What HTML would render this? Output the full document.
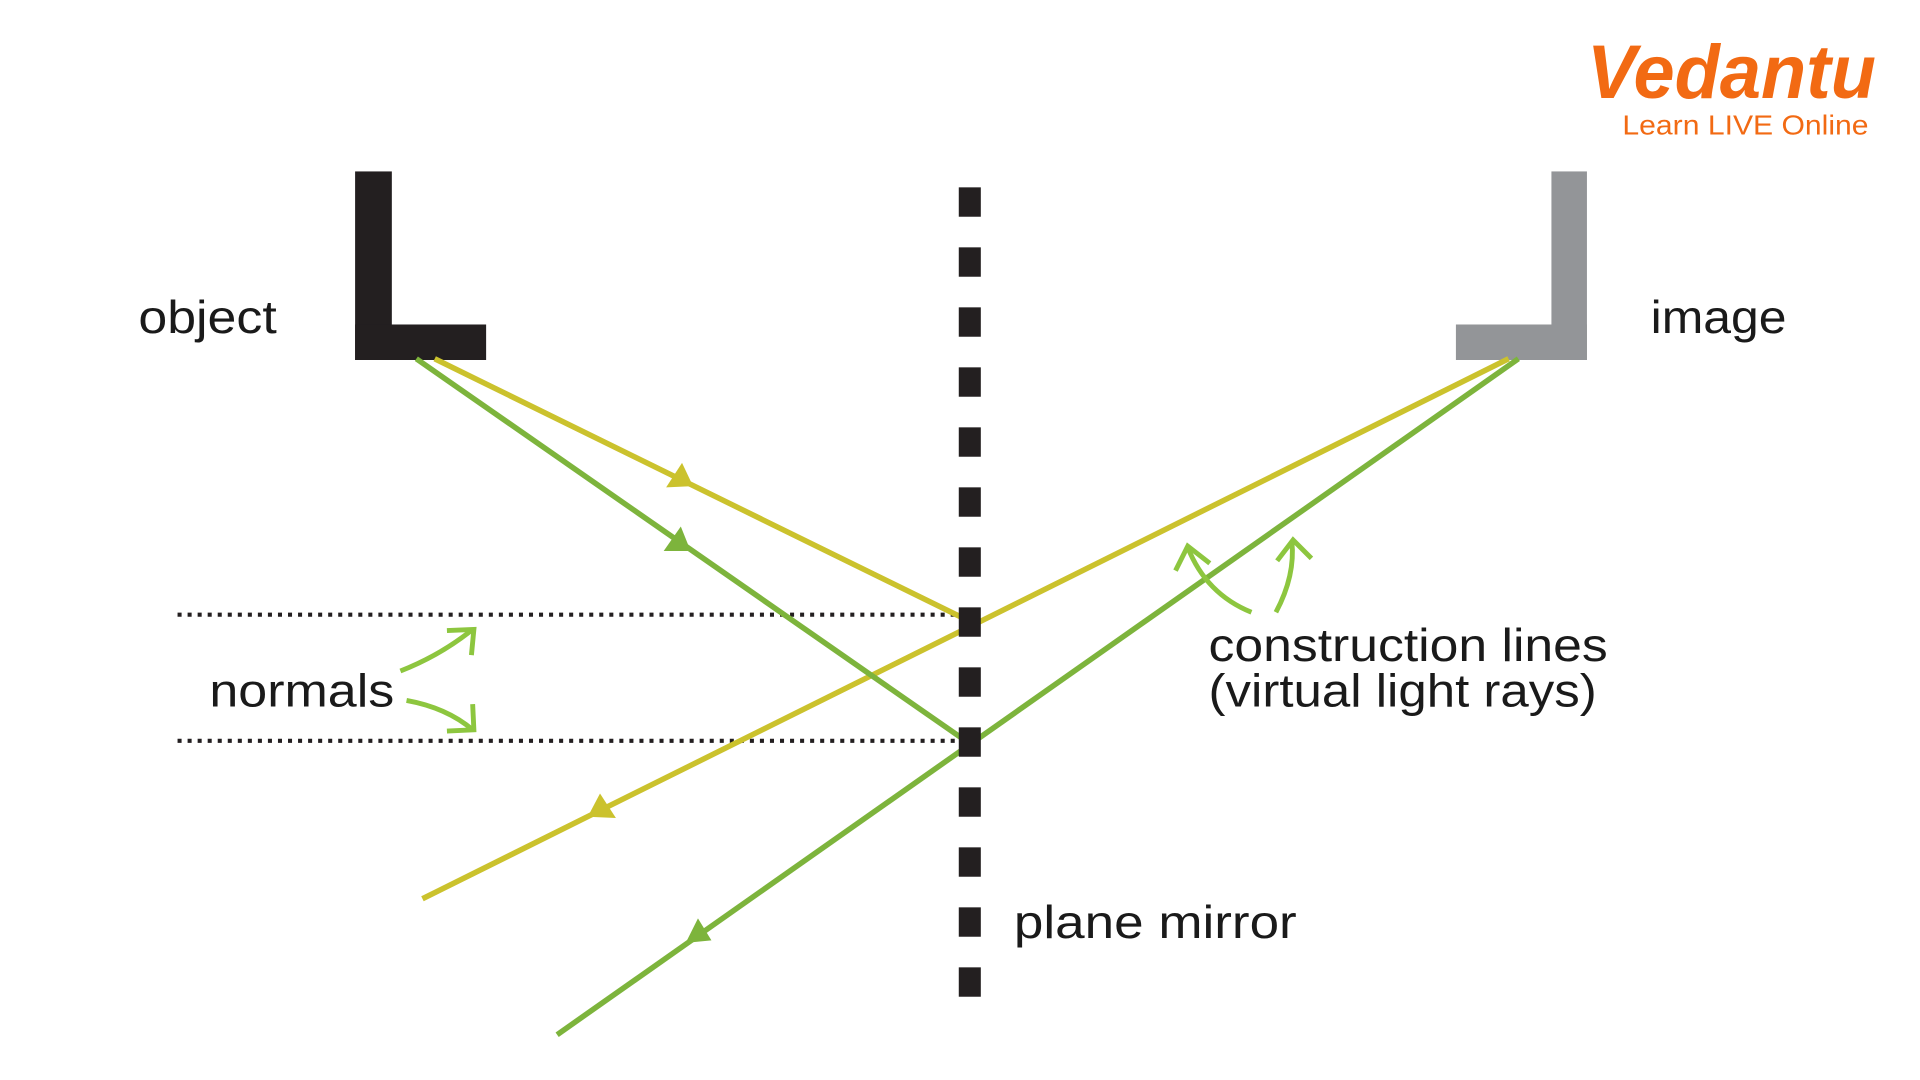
<!DOCTYPE html>
<html><head><meta charset="utf-8"><style>
html,body{margin:0;padding:0;background:#fff;width:1920px;height:1080px;overflow:hidden}
svg{display:block}
text{font-family:"Liberation Sans",sans-serif}
</style></head><body>
<svg width="1920" height="1080" viewBox="0 0 1568 882" xmlns="http://www.w3.org/2000/svg">
<!-- logo -->
<text x="1296" y="80" font-size="62" fill="#f26a13" font-style="italic" font-weight="bold" textLength="236" lengthAdjust="spacingAndGlyphs">Vedantu</text>
<text x="1325" y="110" font-size="23" fill="#f26a13" textLength="201" lengthAdjust="spacingAndGlyphs">Learn LIVE Online</text>
<!-- object L -->
<rect x="290" y="140" width="30" height="154" fill="#231f20"/>
<rect x="290" y="265" width="107" height="29" fill="#231f20"/>
<!-- image L -->
<rect x="1267" y="140" width="29" height="154" fill="#939598"/>
<rect x="1189" y="265" width="107" height="29" fill="#939598"/>
<!-- normals -->
<line x1="145" y1="502" x2="783" y2="502" stroke="#231f20" stroke-width="3.3" stroke-dasharray="3.3 4.9"/>
<line x1="145" y1="605" x2="783" y2="605" stroke="#231f20" stroke-width="3.3" stroke-dasharray="3.3 4.9"/>
<!-- rays -->
<g stroke-width="4.5" fill="none">
<line x1="355" y1="293" x2="785" y2="504" stroke="#cbc22d"/>
<line x1="1232" y1="293" x2="345" y2="734" stroke="#cbc22d"/>
<line x1="340" y1="293" x2="790" y2="606" stroke="#7db43c"/>
<line x1="1240" y1="293" x2="455" y2="845" stroke="#7db43c"/>
</g>
<!-- arrowheads -->
<polygon points="566,397 557,378 544,398" fill="#cbc22d"/>
<polygon points="564,450 556,430 542,450" fill="#7db43c"/>
<polygon points="480,667 503,668 490,648" fill="#cbc22d"/>
<polygon points="560,770 581,768 570,750" fill="#7db43c"/>
<!-- mirror -->
<g fill="#231f20">
<rect x="783" y="153" width="18" height="24"/><rect x="783" y="202" width="18" height="24"/>
<rect x="783" y="251" width="18" height="24"/><rect x="783" y="300" width="18" height="24"/>
<rect x="783" y="349" width="18" height="24"/><rect x="783" y="398" width="18" height="24"/>
<rect x="783" y="447" width="18" height="24"/><rect x="783" y="496" width="18" height="24"/>
<rect x="783" y="545" width="18" height="24"/><rect x="783" y="594" width="18" height="24"/>
<rect x="783" y="643" width="18" height="24"/><rect x="783" y="692" width="18" height="24"/>
<rect x="783" y="741" width="18" height="24"/><rect x="783" y="790" width="18" height="24"/>
</g>
<!-- curved pointer arrows -->
<g stroke="#8dc63f" stroke-width="4" fill="none">
<path d="M327,548 Q360,535 386,514"/><path d="M365,515 L387,514 L385,535"/>
<path d="M332,572 Q365,578 386,596"/><path d="M386,575 L387,596 L365,597"/>
<path d="M1022,500 Q985,485 970,447"/><path d="M960,466 L970,446 L988,460"/>
<path d="M1042,500 Q1058,470 1055,442"/><path d="M1043,458 L1056,441 L1071,456"/>
</g>
<!-- labels -->
<g font-size="38" fill="#1a1a1a" lengthAdjust="spacingAndGlyphs">
<text x="113" y="272" textLength="113" lengthAdjust="spacingAndGlyphs">object</text>
<text x="1348" y="272" textLength="111" lengthAdjust="spacingAndGlyphs">image</text>
<text x="171" y="577" textLength="151" lengthAdjust="spacingAndGlyphs">normals</text>
<text x="987" y="540" textLength="326" lengthAdjust="spacingAndGlyphs">construction lines</text>
<text x="987" y="577" textLength="317" lengthAdjust="spacingAndGlyphs">(virtual light rays)</text>
<text x="828" y="766" textLength="231" lengthAdjust="spacingAndGlyphs">plane mirror</text>
</g>
</svg>
</body></html>
